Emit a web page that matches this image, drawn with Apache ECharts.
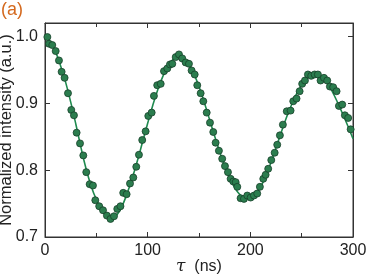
<!DOCTYPE html>
<html>
<head>
<meta charset="utf-8">
<script src="https://cdn.jsdelivr.net/npm/echarts@6/dist/echarts.min.js"></script>
<style>html,body{margin:0;padding:0;background:#fff;}#c{width:367px;height:276px;}</style>
</head>
<body>
<div id="c"></div>
<script>
// Measured data points: delay tau (ns) and normalized intensity
const tauPoints = [2.3,3.9,7.1,10.4,13.6,16.2,19.1,22.4,25.6,28.2,30.8,34.1,37.3,40.2,43.5,46.7,49,52.8,56.5,60.3,63.8,67.2,70.4,73.5,76.2,79.5,
  82.8,86,88.9,91.5,94.7,98,100.6,103.9,106.1,109.3,112.7,115.9,
  119.1,121.7,124,127.3,130.5,133.7,137,140.2,142.8,145.8,148.3,151.6,154.2,157.5,160.7,163.9,166.2,169.4,172.6,175.3,
  178.2,180.8,183.4,185.7,187.3,190.5,193.8,197,200.3,203.5,206.7,209.3,212.6,214.9,217.4,220.4,223.7,226.2,228.8,231.7,235.5,
  239.2,241.8,245,248,250.5,253.2,256.1,259.3,262.6,265.8,268.4,271.7,274.9,277.5,280.7,284,286.3,289.5,292.1,295.3,297.7];
const intensityPoints = [0.999,0.989,0.987,0.978,0.964,0.947,0.938,0.915,0.890,0.882,0.856,0.840,0.822,0.797,0.779,0.777,0.755,0.746,0.740,0.732,0.727,0.731,0.742,0.746,0.766,0.764,
  0.780,0.789,0.805,0.823,0.845,0.858,0.881,0.886,0.911,0.927,0.929,0.948,
  0.952,0.958,0.959,0.969,0.973,0.967,0.961,0.959,0.949,0.943,0.927,0.915,0.903,0.886,0.871,0.857,0.841,0.829,0.817,0.806,
  0.797,0.787,0.783,0.782,0.775,0.758,0.757,0.762,0.759,0.762,0.765,0.775,0.787,0.793,0.802,0.815,0.826,0.838,0.852,0.868,0.888,
  0.889,0.903,0.907,0.918,0.929,0.934,0.943,0.941,0.943,0.943,0.934,0.938,0.934,0.925,0.924,0.918,0.896,0.898,0.882,0.878,0.861];
// Fit curve (every 5 ns)
const tauFit = [0,5,10,15,20,25,30,35,40,45,50,55,60,65,70,75,80,85,90,95,100,105,110,115,120,125,130,135,140,145,150,155,160,165,170,175,180,185,190,195,200,205,210,215,220,225,230,235,240,245,250,255,260,265,270,275,280,285,290,295,300];
const intensityFit = [0.998,0.992,0.978,0.957,0.932,0.902,0.869,0.834,0.802,0.776,0.756,0.741,0.731,0.728,0.733,0.746,0.765,0.788,0.814,0.842,0.870,0.897,0.921,0.941,0.956,0.966,0.970,0.967,0.958,0.944,0.925,0.902,0.877,0.852,0.828,0.806,0.788,0.773,0.763,0.758,0.758,0.764,0.775,0.791,0.811,0.833,0.856,0.878,0.897,0.914,0.927,0.937,0.942,0.943,0.939,0.930,0.917,0.901,0.884,0.866,0.847];
const xTicks = [0,100,200,300];
const yTicks = [0.7,0.8,0.9,1.0];

const chart = echarts.init(document.getElementById('c'));
const fontFam = '"Liberation Sans", Arial, sans-serif';
const axisCol = '#333';
const txtCol = '#222';
const yFmt = v => yTicks.some(t => Math.abs(t - v) < 1e-6) ? v.toFixed(1) : '';
const xFmt = v => xTicks.includes(v) ? String(v) : '';
chart.setOption({
  animation: false,
  backgroundColor: '#fff',
  graphic: [{type:'text', left: 1, top: 1, style:{text:'(a)', fill:'#d4691e', font:'18px ' + fontFam}}],
  grid: {left: 45, right: 14, top: 23, bottom: 39, containLabel: false, outerBoundsMode: 'none',
         show: true, borderColor: axisCol, borderWidth: 1, backgroundColor: 'transparent'},
  xAxis: [{
    type: 'value', min: 0, max: 300, interval: 100,
    name: '{t|τ}  (ns)', nameLocation: 'middle', nameGap: 21, nameMoveOverlap: false,
    nameTextStyle: {color: txtCol, fontSize: 16, fontFamily: fontFam, verticalAlign: 'top',
      rich: {t: {fontStyle: 'italic', fontSize: 17, fontFamily: '"DejaVu Serif", serif', color: txtCol}}},
    axisLine: {show: true, onZero: false, lineStyle: {color: axisCol, width: 1}},
    axisTick: {show: true, inside: true, length: 5, lineStyle: {color: axisCol}},
    minorTick: {show: true, splitNumber: 2, length: 4, lineStyle: {color: axisCol}},
    axisLabel: {color: txtCol, fontSize: 16, fontFamily: fontFam, margin: 6, formatter: xFmt},
    splitLine: {show: false}
  }, {
    type: 'value', position: 'top', min: 0, max: 300, interval: 100,
    axisLine: {show: true, onZero: false, lineStyle: {color: axisCol, width: 1}},
    axisTick: {show: true, inside: true, length: 5, lineStyle: {color: axisCol}},
    minorTick: {show: true, splitNumber: 2, length: 4, lineStyle: {color: axisCol}},
    axisLabel: {show: false}, splitLine: {show: false}
  }],
  yAxis: [{
    type: 'value', min: 0.7, max: 1.02, interval: 0.1,
    name: 'Normalized intensity (a.u.)', nameLocation: 'middle', nameGap: 30, nameMoveOverlap: false,
    nameTextStyle: {color: txtCol, fontSize: 16.5, fontFamily: fontFam},
    axisLine: {show: true, onZero: false, lineStyle: {color: axisCol, width: 1}},
    axisTick: {show: true, inside: true, length: 5, lineStyle: {color: axisCol}},
    axisLabel: {color: txtCol, fontSize: 16, fontFamily: fontFam, margin: 7, formatter: yFmt, showMaxLabel: false},
    splitLine: {show: false}
  }, {
    type: 'value', position: 'right', min: 0.7, max: 1.02, interval: 0.1,
    axisLine: {show: true, onZero: false, lineStyle: {color: axisCol, width: 1}},
    axisTick: {show: true, inside: true, length: 5, lineStyle: {color: axisCol}},
    axisLabel: {show: false}, splitLine: {show: false}
  }],
  series: [{
    type: 'line', xAxisIndex: 0, yAxisIndex: 0,
    data: tauFit.map((t, i) => [t, intensityFit[i]]),
    smooth: 0.4, showSymbol: false, symbol: 'none',
    lineStyle: {color: '#1f8a4f', width: 1.6}, z: 2
  }, {
    type: 'scatter', xAxisIndex: 0, yAxisIndex: 0,
    data: tauPoints.map((t, i) => [t, intensityPoints[i]]),
    symbol: 'circle', symbolSize: 7,
    itemStyle: {color: '#2b7d4e', borderColor: '#16402a', borderWidth: 0.8, opacity: 1}, z: 3
  }]
});
</script>
</body>
</html>
